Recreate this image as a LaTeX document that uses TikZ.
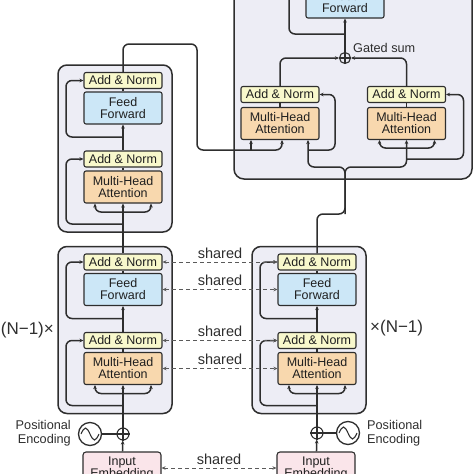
\documentclass[tikz,border=0pt]{standalone}
\usepackage{fontspec}
\setmainfont{Liberation Sans}
\usetikzlibrary{arrows.meta,positioning}

\definecolor{blockbg}{HTML}{EDEDF5}
\definecolor{anfill}{HTML}{F8F8CC}
\definecolor{fffill}{HTML}{CCE7F7}
\definecolor{mhafill}{HTML}{F8D8AE}
\definecolor{embfill}{HTML}{FAE5EA}
\definecolor{wirecol}{HTML}{2E2E2E}
\definecolor{sharecol}{HTML}{5A5A5A}

\begin{document}
\begin{tikzpicture}[
  x=1pt, y=-1pt,
  font=\fontsize{12.5}{12}\selectfont,
  >={Stealth[length=4pt,width=3.6pt]},
  wire/.style={draw=wirecol, line width=1.5pt, rounded corners=6pt},
  blockbox/.style={draw=wirecol, line width=1.5pt, fill=blockbg, rounded corners=9pt, inner sep=0pt},
  sublayer/.style={draw=wirecol, line width=1.1pt, rounded corners=2pt, minimum width=78pt, inner sep=0pt, align=center, text=black!88},
  addnorm/.style={sublayer, fill=anfill, minimum height=16pt},
  ffbox/.style={sublayer, fill=fffill, minimum height=32pt},
  mhabox/.style={sublayer, fill=mhafill, minimum height=32pt},
  embbox/.style={sublayer, fill=embfill, minimum height=32pt, rounded corners=3pt},
  plusnode/.style={draw=wirecol, line width=1.1pt, circle, minimum size=12pt, inner sep=0pt},
  sinenode/.style={draw=wirecol, line width=1.3pt, circle, minimum size=23pt, inner sep=0pt},
  sharedarrow/.style={<->, draw=sharecol, dash pattern=on 4pt off 3pt, line width=0.9pt},
  lbl/.style={font=\fontsize{12.7}{14}\selectfont, text=black!82, inner sep=0pt},
  shlbl/.style={font=\fontsize{14.5}{15}\selectfont, text=black!82, inner sep=0pt},
  nlbl/.style={font=\fontsize{17}{17}\selectfont, text=black!82, inner sep=0pt}
]
\useasboundingbox (0,0) rectangle (474,474);
\clip (0,0) rectangle (474,474);

% Decoder frame (top, cut by the picture edge)
\node[blockbox, rounded corners=10pt, minimum width=238pt, minimum height=219pt] (dec-box) at (353,69.5) {};

% Encoder blocks: name / centre x / y offset
\foreach \n/\cx/\oy in {tl/123/0, bl/123/181.5, br/317/181.5} {
  \node[blockbox, minimum width=114pt, minimum height=167pt] (\n-box) at (\cx-8, 148.5+\oy) {};
  \node[addnorm] (\n-an1) at (\cx, 80.5+\oy) {Add \& Norm};
  \node[ffbox]   (\n-ff)  at (\cx, 108+\oy)  {Feed\\Forward};
  \node[addnorm] (\n-an2) at (\cx, 159+\oy)  {Add \& Norm};
  \node[mhabox]  (\n-mha) at (\cx, 187+\oy)  {Multi-Head\\Attention};
  \coordinate (\n-r1)  at (\cx, 137+\oy);
  \coordinate (\n-qkv) at (\cx, 212+\oy);
  \coordinate (\n-r2)  at (\cx, 224+\oy);
  \draw[wire] (\n-mha) -- (\n-an2);
  \draw[wire,->] (\n-an2) -- (\n-ff);
  \draw[wire] (\n-ff) -- (\n-an1);
  \draw[wire,->] (\n-r1) -- ++(-57,0) |- (\n-an1);
  \draw[wire,->] (\n-r2) -- ++(-57,0) |- (\n-an2);
  \draw[wire,->] (\n-qkv) -| ([xshift=-28pt]\n-mha.south);
  \draw[wire,->] (\n-qkv) -| ([xshift=28pt]\n-mha.south);
}

% Inputs + positional encoding (left)
\node[plusnode] (addL) at (123,434) {};
\draw[wirecol, line width=1.1pt] (addL.north) -- (addL.south) (addL.west) -- (addL.east);
\node[sinenode] (sinL) at (90,434) {};
\draw[wirecol, line width=1.1pt] ([xshift=-9pt]sinL.center) sin ++(4.5,-6) cos ++(4.5,6) sin ++(4.5,6) cos ++(4.5,-6);
\node[embbox] (embL) at (122,468) {Input\\Embedding};
\node[lbl, align=right, anchor=east] (peL) at (71,433) {Positional\\Encoding};
\draw[wire] (sinL) -- (addL);
\draw[wire,->] (embL) -- (addL);

% Inputs + positional encoding (right)
\node[plusnode] (addR) at (317,433) {};
\draw[wirecol, line width=1.1pt] (addR.north) -- (addR.south) (addR.west) -- (addR.east);
\node[sinenode] (sinR) at (348,433) {};
\draw[wirecol, line width=1.1pt] ([xshift=-9pt]sinR.center) sin ++(4.5,-6) cos ++(4.5,6) sin ++(4.5,6) cos ++(4.5,-6);
\node[embbox] (embR) at (316,468) {Input\\Embedding};
\node[lbl, align=left, anchor=west] (peR) at (367,433) {Positional\\Encoding};
\draw[wire] (sinR) -- (addR);
\draw[wire,->] (embR) -- (addR);

% Main stacks
\draw[wire,->] (addL) -- (bl-mha);
\draw[wire,->] (addR) -- (br-mha);
\draw[wire,->] (bl-an1) -- (tl-mha);

% Repeat counts
\node[nlbl, anchor=east] (nL) at (54,330) {(N−1)×};
\node[nlbl, anchor=west] (nR) at (370,328) {×(N−1)};

% Shared weights
\draw[sharedarrow] (bl-an1) -- node[shlbl, above=3pt] (sh1) {shared} (br-an1);
\draw[sharedarrow] (bl-ff)  -- node[shlbl, above=3pt] (sh2) {shared} (br-ff);
\draw[sharedarrow] (bl-an2) -- node[shlbl, above=3pt] (sh3) {shared} (br-an2);
\draw[sharedarrow] (bl-mha) -- node[shlbl, above=3pt] (sh4) {shared} (br-mha);
\draw[sharedarrow] (embL)   -- node[shlbl, above=3pt] (sh5) {shared} (embR);

% Decoder sublayers
\node[addnorm] (dan-l)  at (280,94.5)   {Add \& Norm};
\node[mhabox]  (dmha-l) at (280,123.5)  {Multi-Head\\Attention};
\node[addnorm] (dan-r)  at (406.5,94.5) {Add \& Norm};
\node[mhabox]  (dmha-r) at (406.5,123.5) {Multi-Head\\Attention};
\node[plusnode, minimum size=11pt] (gsum) at (345,58) {};
\draw[wirecol, line width=1.1pt] (gsum.north) -- (gsum.south) (gsum.west) -- (gsum.east);
\node[ffbox] (dff) at (345,2) {Feed\\Forward};
\node[lbl, anchor=south west] (gtxt) at (353,53) {Gated sum};

\draw[wire] (dmha-l) -- (dan-l);
\draw[wire] (dmha-r) -- (dan-r);
\draw[wire,->] (dan-l) |- (gsum);
\draw[wire,->] (dan-r) |- (gsum);
\draw[wire,->] (gsum) -- (dff);
\coordinate (dres) at (345,34);
\coordinate (dres-top) at (289,-10);
\draw[wire] (dres) -| (dres-top);

% Encoder output -> left attention (K,V)
\coordinate (eo1) at (197,44);
\coordinate (eo2) at (197,150);
\draw[wire,->] (tl-an1) |- (eo1) -- (eo2) -| ([xshift=2pt]dmha-l.south);
\coordinate (kv-l) at (251,150);
\draw[wire,->] (kv-l) -- (kv-l |- dmha-l.south);

% Right encoder output -> queries / right attention
\coordinate (ej) at (345,214);
\coordinate (dj) at (345,167);
\draw[wire,->] (br-an1) |- (ej) -- (dj) -| ([xshift=28pt]dmha-l.south);
\draw[wire,->] (ej) -- (dj) -| (dmha-r);
\coordinate (kv-r) at (406.5,148);
\draw[wire,->] (kv-r) -| ([xshift=-27pt]dmha-r.south);
\draw[wire,->] (kv-r) -| ([xshift=28pt]dmha-r.south);

% Decoder residuals
\coordinate (dres-l) at (308,150);
\draw[wire,->] (dres-l) -- ++(27,0) |- (dan-l);
\coordinate (dres-r) at (406.5,159);
\draw[wire,->] (dres-r) -- ++(57,0) |- (dan-r);

\end{tikzpicture}
\end{document}
